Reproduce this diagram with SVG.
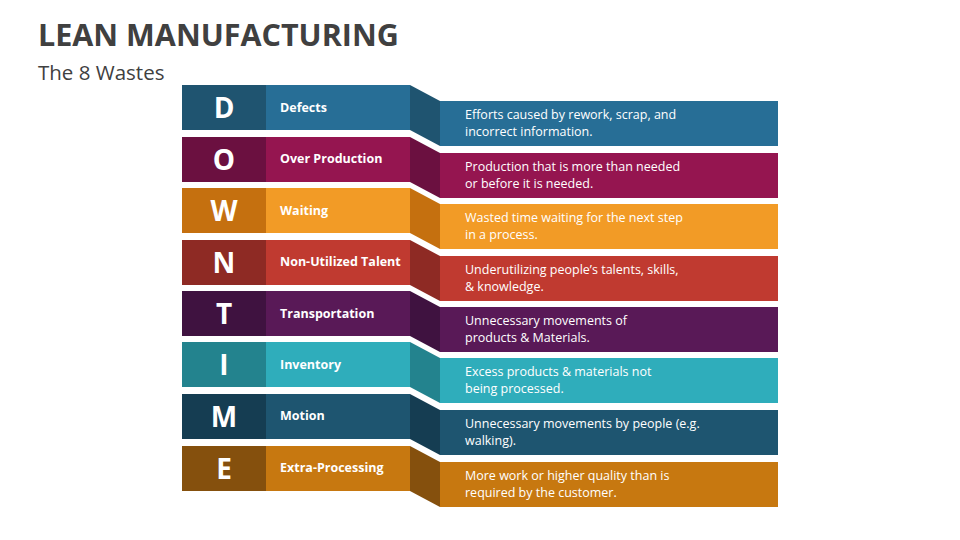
<svg xmlns="http://www.w3.org/2000/svg" width="960" height="540" viewBox="0 0 960 540">
<style>
.t{font-family:"Open Sans","Liberation Sans",sans-serif;fill:#fff}
.L{font-size:28px;font-weight:700;text-anchor:middle}
.n{font-size:12.5px;font-weight:700}
.d{font-size:12.5px}
</style>
<rect width="960" height="540" fill="#fff"/>
<text x="38" y="46" font-family="'Open Sans','Liberation Sans',sans-serif" font-size="30.5" font-weight="700" fill="#404040">LEAN MANUFACTURING</text>
<text x="38" y="80" font-family="'Open Sans','Liberation Sans',sans-serif" font-size="20.5" fill="#404040">The 8 Wastes</text>
<g id="rows">
<g id="r1" transform="translate(0,85)"><rect x="182" width="84" height="45" fill="#1F5470"/><rect x="266" width="144" height="45" fill="#276E96"/><polygon points="410,0 440,16 440,61 410,45" fill="#1F5470"/><rect x="440" y="16" width="338" height="45" fill="#276E96"/>
<text class="t L" x="224" y="33">D</text><text class="t n" x="280" y="27">Defects</text><text class="t d" x="465" y="34">Efforts caused by rework, scrap, and</text><text class="t d" x="465" y="51">incorrect information.</text></g>
<g id="r2" transform="translate(0,137)"><rect x="182" width="84" height="45" fill="#6B1040"/><rect x="266" width="144" height="45" fill="#951550"/><polygon points="410,0 440,16 440,61 410,45" fill="#6B1040"/><rect x="440" y="16" width="338" height="45" fill="#951550"/>
<text class="t L" x="224" y="33">O</text><text class="t n" x="280" y="26">Over Production</text><text class="t d" x="465" y="34">Production that is more than needed</text><text class="t d" x="465" y="51">or before it is needed.</text></g>
<g id="r3" transform="translate(0,188)"><rect x="182" width="84" height="45" fill="#C5700F"/><rect x="266" width="144" height="45" fill="#F29B26"/><polygon points="410,0 440,16 440,61 410,45" fill="#C5700F"/><rect x="440" y="16" width="338" height="45" fill="#F29B26"/>
<text class="t L" x="224" y="33">W</text><text class="t n" x="280" y="27">Waiting</text><text class="t d" x="465" y="34">Wasted time waiting for the next step</text><text class="t d" x="465" y="51">in a process.</text></g>
<g id="r4" transform="translate(0,240)"><rect x="182" width="84" height="45" fill="#8E2A24"/><rect x="266" width="144" height="45" fill="#C03A30"/><polygon points="410,0 440,16 440,61 410,45" fill="#8E2A24"/><rect x="440" y="16" width="338" height="45" fill="#C03A30"/>
<text class="t L" x="224" y="33">N</text><text class="t n" x="280" y="26">Non-Utilized Talent</text><text class="t d" x="465" y="34">Underutilizing people’s talents, skills,</text><text class="t d" x="465" y="51">&amp; knowledge.</text></g>
<g id="r5" transform="translate(0,291)"><rect x="182" width="84" height="45" fill="#3F1240"/><rect x="266" width="144" height="45" fill="#591957"/><polygon points="410,0 440,16 440,61 410,45" fill="#3F1240"/><rect x="440" y="16" width="338" height="45" fill="#591957"/>
<text class="t L" x="224" y="33">T</text><text class="t n" x="280" y="27">Transportation</text><text class="t d" x="465" y="34">Unnecessary movements of</text><text class="t d" x="465" y="51">products &amp; Materials.</text></g>
<g id="r6" transform="translate(0,342)"><rect x="182" width="84" height="45" fill="#23838E"/><rect x="266" width="144" height="45" fill="#2FADBB"/><polygon points="410,0 440,16 440,61 410,45" fill="#23838E"/><rect x="440" y="16" width="338" height="45" fill="#2FADBB"/>
<text class="t L" x="224" y="33">I</text><text class="t n" x="280" y="27">Inventory</text><text class="t d" x="465" y="34">Excess products &amp; materials not</text><text class="t d" x="465" y="51">being processed.</text></g>
<g id="r7" transform="translate(0,394)"><rect x="182" width="84" height="45" fill="#153D52"/><rect x="266" width="144" height="45" fill="#1E5570"/><polygon points="410,0 440,16 440,61 410,45" fill="#153D52"/><rect x="440" y="16" width="338" height="45" fill="#1E5570"/>
<text class="t L" x="224" y="33">M</text><text class="t n" x="280" y="26">Motion</text><text class="t d" x="465" y="34">Unnecessary movements by people (e.g.</text><text class="t d" x="465" y="51">walking).</text></g>
<g id="r8" transform="translate(0,446)"><rect x="182" width="84" height="45" fill="#85500D"/><rect x="266" width="144" height="45" fill="#C77810"/><polygon points="410,0 440,16 440,61 410,45" fill="#85500D"/><rect x="440" y="16" width="338" height="45" fill="#C77810"/>
<text class="t L" x="224" y="33">E</text><text class="t n" x="280" y="26">Extra-Processing</text><text class="t d" x="465" y="34">More work or higher quality than is</text><text class="t d" x="465" y="51">required by the customer.</text></g>
</g>
<g id="connectors"/>
</svg>
